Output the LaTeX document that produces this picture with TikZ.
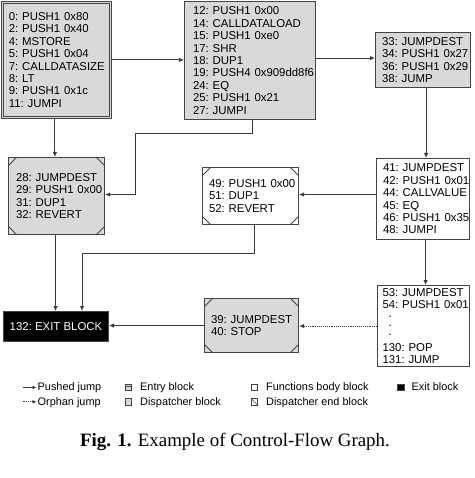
\documentclass[tikz,border=0pt]{standalone}
\usepackage{fontspec}
\newfontfamily\lsans{Liberation Sans}
\newfontfamily\lserif{Liberation Serif}
\usetikzlibrary{arrows.meta,calc}
\definecolor{bdr}{HTML}{444444}
\definecolor{lnc}{HTML}{3A3A3A}
\definecolor{dfill}{HTML}{D9D9D9}
\hfuzz=40pt \hbadness=10000
\begin{document}
\begin{tikzpicture}[x=1pt,y=-1pt,
  blk/.style={draw=bdr, line width=1.1pt, anchor=north west, inner ysep=0pt, inner xsep=0pt, align=left,
    font=\lsans\fontsize{11.4}{12.4}\selectfont\frenchspacing, text=black},
  lpad/.style={execute at begin node={\leftskip=#1\relax}},
  disp/.style={blk, fill=dfill},
  func/.style={blk, fill=white},
  entry/.style={blk, fill=dfill, line width=0.8pt, double=gray!30, double distance=0.9pt},
  corners/.style={path picture={
    \draw[bdr, line width=0.9pt] ([yshift=-8pt]path picture bounding box.north west) -- ([xshift=8pt]path picture bounding box.north west);
    \draw[bdr, line width=0.9pt] ([yshift=-8pt]path picture bounding box.north east) -- ([xshift=-8pt]path picture bounding box.north east);
    \draw[bdr, line width=0.9pt] ([yshift=8pt]path picture bounding box.south west) -- ([xshift=8pt]path picture bounding box.south west);
    \draw[bdr, line width=0.9pt] ([yshift=8pt]path picture bounding box.south east) -- ([xshift=-8pt]path picture bounding box.south east);
  }},
  exitb/.style={draw=bdr, line width=1pt, fill=black, text=white, anchor=north west, inner sep=0pt,
    font=\lsans\fontsize{11.4}{12.4}\selectfont\frenchspacing},
  jmp/.style={draw=lnc, line width=0.9pt, -{Latex[length=5pt,width=4.5pt]}},
  orph/.style={jmp, densely dotted},
  lgd/.style={font=\lsans\fontsize{10.9}{12}\selectfont, anchor=base west, inner sep=0pt},
  icon/.style={draw=bdr, line width=0.6pt},
]
\useasboundingbox (0,0) rectangle (474,478);
\fill[white] (0,0) rectangle (474,478);

% blocks
\node[entry, lpad=6.5pt, text width=108pt, minimum height=115pt] (b1) at (2,2)
  {0: PUSH1 0x80\\2: PUSH1 0x40\\4: MSTORE\\5: PUSH1 0x04\\7: CALLDATASIZE\\8: LT\\9: PUSH1 0x1c\\11: JUMPI};
\node[disp, lpad=8.5pt, text width=131pt, minimum height=118pt] (b2) at (184,1)
  {12: PUSH1 0x00\\14: CALLDATALOAD\\15: PUSH1 0xe0\\17: SHR\\18: DUP1\\19: PUSH4 0x909dd8f6\\24: EQ\\25: PUSH1 0x21\\27: JUMPI};
\node[disp, lpad=6.5pt, text width=95pt, minimum height=55pt] (b3) at (375,32)
  {33: JUMPDEST\\34: PUSH1 0x27\\36: PUSH1 0x29\\38: JUMP};
\node[disp, corners, lpad=7.5pt, text width=96pt, minimum height=77pt] (b4) at (8,157)
  {28: JUMPDEST\\29: PUSH1 0x00\\31: DUP1\\32: REVERT};
\node[func, corners, lpad=6.5pt, text width=96pt, minimum height=57pt] (b5) at (202,167)
  {49: PUSH1 0x00\\51: DUP1\\52: REVERT};
\node[func, lpad=6.5pt, text width=93pt, minimum height=81pt] (b6) at (376,158)
  {41: JUMPDEST\\42: PUSH1 0x01\\44: CALLVALUE\\45: EQ\\46: PUSH1 0x35\\48: JUMPI};
\node[func, lpad=5pt, text width=92pt, minimum height=81pt] (b7) at (377,285)
  {53: JUMPDEST\\54: PUSH1 0x01\\[-3.5pt]\hspace*{6pt}.\\[-3.5pt]\hspace*{6pt}.\\[-3.5pt]\hspace*{6pt}.\\[3pt]130: POP\\131: JUMP};
\node[disp, corners, lpad=6.5pt, text width=94pt, minimum height=54pt] (b8) at (204,298)
  {39: JUMPDEST\\40: STOP};
\node[exitb, minimum width=105pt, minimum height=30pt] (ex) at (3,311) {132: EXIT BLOCK};

% connectors
\coordinate (b3in) at ([yshift=2pt]b3.west);
\coordinate (b1out) at ([xshift=-1.5pt]b1.south);
\coordinate (b2out) at ([xshift=2.5pt]b2.south);
\coordinate (j2) at (135,133);
\coordinate (b4in) at ([yshift=1.5pt]b4.east);
\coordinate (b3out) at ([xshift=3pt]b3.south);
\coordinate (b6in) at ([yshift=4.5pt]b6.west);
\coordinate (b6out) at ([xshift=2.5pt]b6.south);
\coordinate (b5out) at ([xshift=4pt]b5.south);
\coordinate (b4out) at ([xshift=-1pt]b4.south);
\coordinate (j1) at (82,253);
\draw[jmp] (b1.east) -- (b1.east -| b2.west);
\draw[jmp] (b2.east |- b3in) -- (b3in);
\draw[jmp] (b1out) -- (b1out |- b4.north);
\draw[jmp] (b2out) |- (j2) |- (b4in);
\draw[jmp] (b3out) -- (b3out |- b6.north);
\draw[jmp] (b6in) -- (b6in -| b5.east);
\draw[jmp] (b6out) -- (b6out |- b7.north);
\draw[jmp] (b5out) |- (j1) -- (j1 |- ex.north);
\draw[jmp] (b4out) -- (b4out |- ex.north);
\draw[jmp] (b8.west) -- (b8.west -| ex.east);
\draw[orph] (b7.west) -- (b7.west -| b8.east);

% legend
\coordinate (la1) at (22.5,387.5);
\coordinate (la2) at (36.5,387.5);
\coordinate (lb1) at (22.5,401.8);
\coordinate (lb2) at (36.5,401.8);
\draw[jmp, line width=0.8pt, -{Latex[length=4pt,width=4pt]}] (la1) -- (la2);
\draw[orph, line width=0.8pt, -{Latex[length=4pt,width=4pt]}] (lb1) -- (lb2);
\node[lgd] (t1) at (37.5,390.8) {Pushed jump};
\node[lgd] (t2) at (37.5,405) {Orphan jump};
\draw[icon, fill=dfill] (125,384) rectangle (131.5,390.5);
\draw[icon] (125,386.3) -- (131.5,386.3);
\node[lgd] (t3) at (140,390.8) {Entry block};
\draw[icon, fill=dfill] (125,398.5) rectangle (131.5,405);
\node[lgd] (t4) at (140,405) {Dispatcher block};
\draw[icon, fill=white] (251,384) rectangle (257.5,390.5);
\node[lgd] (t5) at (266,390.8) {Functions body block};
\draw[icon, fill=white] (251,398.5) rectangle (257.5,405);
\draw[icon] (251,398.5) -- (257.5,405);
\node[lgd] (t6) at (266,405) {Dispatcher end block};
\draw[icon, fill=black] (397,384) rectangle (404,390.5);
\node[lgd] (t7) at (411.5,390.8) {Exit block};

% caption
\node[font=\lserif\fontsize{18.9}{22}\selectfont, anchor=base, inner sep=0pt] (cap) at (235,446.5)
  {\textbf{Fig. 1.} Example of Control-Flow Graph.};
\end{tikzpicture}
\end{document}
